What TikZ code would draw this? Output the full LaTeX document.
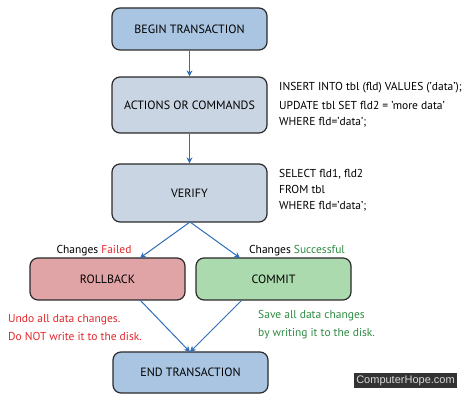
\documentclass[tikz,border=0pt]{standalone}
\usepackage{fontspec}
\setmainfont{PT Sans}
\usetikzlibrary{arrows.meta}
\definecolor{bluebox}{HTML}{A9C5E2}
\definecolor{graybox}{HTML}{C9D5E2}
\definecolor{redbox}{HTML}{E1A4A6}
\definecolor{greenbox}{HTML}{AADAAD}
\definecolor{arrowblue}{HTML}{2F6DB5}
\definecolor{txtred}{HTML}{E3262A}
\definecolor{txtgreen}{HTML}{2E8B43}
\definecolor{boxline}{HTML}{2A2A2A}
\begin{document}
\begin{tikzpicture}[x=1pt,y=-1pt,
  box/.style={draw=boxline,line width=1.2pt,rounded corners=8pt,minimum width=155pt,font=\fontsize{12}{13}\selectfont},
  arr/.style={draw=arrowblue,line width=1pt,-{Stealth[length=6pt,width=6pt]}},
  sql/.style={anchor=west,align=left,font=\fontsize{11.5}{16}\selectfont,inner sep=0pt},
  note/.style={anchor=north west,align=left,font=\fontsize{11.5}{18}\selectfont,inner sep=0pt}]
\useasboundingbox (0,0) rectangle (474,403);
\node[box,fill=bluebox,minimum height=42pt] (begin) at (189.5,29) {BEGIN TRANSACTION};
\node[box,fill=graybox,minimum height=56pt] (act) at (189.5,105) {ACTIONS OR COMMANDS};
\node[box,fill=graybox,minimum height=58pt] (ver) at (189.5,193) {VERIFY};
\node[box,fill=redbox,minimum height=42pt] (roll) at (107.5,279) {ROLLBACK};
\node[box,fill=greenbox,minimum height=42pt] (com) at (273.5,279) {COMMIT};
\node[box,fill=bluebox,minimum height=41pt] (end) at (190.5,372.5) {END TRANSACTION};
\draw[arr] (begin) -- (act);
\draw[arr] (act) -- (ver);
\coordinate (vb) at (190,222);
\coordinate (rt) at (140,258);
\coordinate (ct) at (240,258);
\draw[arr] (vb) -- (rt);
\draw[arr] (vb) -- (ct);
\coordinate (rb) at (140,300);
\coordinate (cb) at (242,300);
\coordinate (et) at (190,352);
\draw[arr] (rb) -- (et);
\draw[arr] (cb) -- (et);
\node[anchor=base,font=\fontsize{11.5}{13}\selectfont] (fail) at (94,254) {Changes \textcolor{txtred}{Failed}};
\node[anchor=base,font=\fontsize{11.5}{13}\selectfont] (succ) at (297,254) {Changes \textcolor{txtgreen}{Successful}};
\node[sql] (ins) at (279,88) {INSERT INTO tbl (fld) VALUES ('data');};
\node[sql,anchor=north west] (upd) at (279,101) {UPDATE tbl SET fld2 = 'more data'\\WHERE fld='data';};
\node[sql,anchor=north west] (sel) at (279,169) {SELECT fld1, fld2\\FROM tbl\\WHERE fld='data';};
\node[note,text=txtred] (undo) at (8,314) {Undo all data changes.\\Do NOT write it to the disk.};
\node[note,text=txtgreen] (save) at (258,310) {Save all data changes\\by writing it to the disk.};
\node[fill=black!80,text=white!85!black,inner sep=2pt,minimum width=101pt,minimum height=15pt,font=\fontspec{Liberation Sans}\fontsize{11}{12}\selectfont] (ch) at (405.5,380.5) {ComputerHope.com};
\end{tikzpicture}
\end{document}
